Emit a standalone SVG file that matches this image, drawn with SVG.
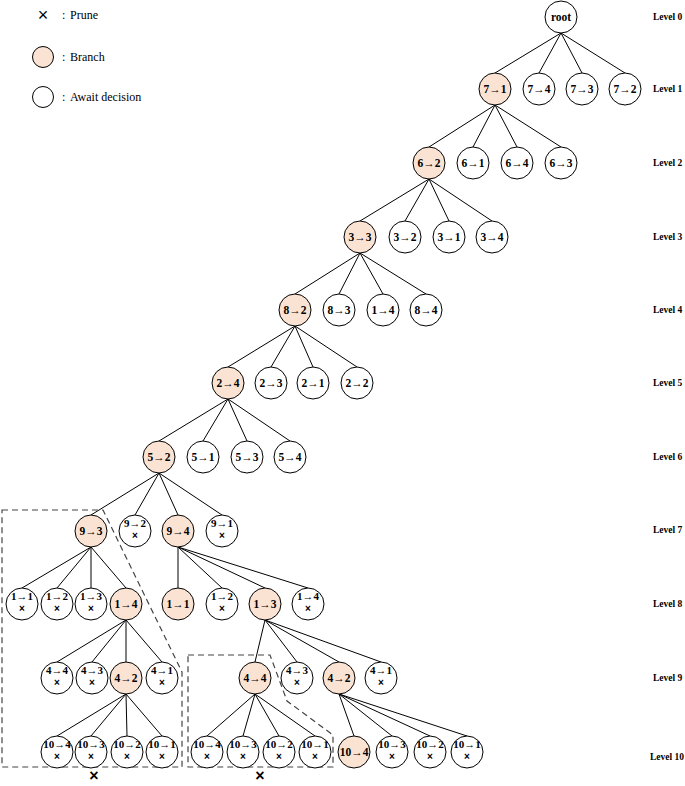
<svg xmlns="http://www.w3.org/2000/svg" width="685" height="786" viewBox="0 0 685 786">
<style>
.n{fill:#fff;stroke:#000;stroke-width:1}
.b{fill:#FAE3D3;stroke:#000;stroke-width:1}
.t{font-family:"Liberation Serif","Times New Roman",serif;font-weight:bold;font-size:11.5px;text-anchor:middle;fill:#000}
.u{font-family:"Liberation Serif","Times New Roman",serif;font-weight:bold;font-size:11px;text-anchor:middle;fill:#000}
.x{font-family:"Liberation Sans",Arial,sans-serif;font-weight:bold;font-size:10px;text-anchor:middle;fill:#000}
.X{font-family:"Liberation Sans",Arial,sans-serif;font-weight:bold;font-size:16px;text-anchor:middle;fill:#000}
.lv{font-family:"Liberation Serif","Times New Roman",serif;font-weight:bold;font-size:9.5px;fill:#000}
.lg{font-family:"Liberation Serif","Times New Roman",serif;font-size:12px;fill:#000}
.e line{stroke:#000;stroke-width:1}
.d{fill:none;stroke:#444;stroke-width:1.2;stroke-dasharray:6 4}
</style>
<rect width="685" height="786" fill="#fff"/>
<g id="legend">
<text x="43" y="21" font-family="Liberation Sans,Arial,sans-serif" font-size="18" text-anchor="middle">×</text>
<text x="62" y="19" class="lg">:</text><text x="70" y="19" class="lg">Prune</text>
<circle cx="43" cy="57" r="10.5" class="b"/>
<text x="62" y="61" class="lg">:</text><text x="70" y="61" class="lg">Branch</text>
<circle cx="43" cy="97" r="10.5" class="n"/>
<text x="62" y="101" class="lg">:</text><text x="70" y="101" class="lg">Await decision</text>
</g>
<g id="levels">
<text x="653" y="20" class="lv">Level 0</text>
<text x="653" y="92" class="lv">Level 1</text>
<text x="653" y="166" class="lv">Level 2</text>
<text x="653" y="240" class="lv">Level 3</text>
<text x="653" y="313" class="lv">Level 4</text>
<text x="653" y="386" class="lv">Level 5</text>
<text x="653" y="460" class="lv">Level 6</text>
<text x="653" y="533" class="lv">Level 7</text>
<text x="653" y="607" class="lv">Level 8</text>
<text x="653" y="681" class="lv">Level 9</text>
<text x="650" y="760" class="lv">Level 10</text>
</g>
<g id="connectors" class="e">
<line x1="561" y1="33" x2="495" y2="73"/><line x1="561" y1="33" x2="539" y2="73"/><line x1="561" y1="33" x2="582" y2="73"/><line x1="561" y1="33" x2="625" y2="73"/>
<line x1="495" y1="105" x2="429" y2="147"/><line x1="495" y1="105" x2="473" y2="147"/><line x1="495" y1="105" x2="517" y2="147"/><line x1="495" y1="105" x2="561" y2="147"/>
<line x1="429" y1="179" x2="360" y2="221"/><line x1="429" y1="179" x2="405" y2="221"/><line x1="429" y1="179" x2="449" y2="221"/><line x1="429" y1="179" x2="492" y2="221"/>
<line x1="360" y1="253" x2="295" y2="294"/><line x1="360" y1="253" x2="339" y2="294"/><line x1="360" y1="253" x2="383" y2="294"/><line x1="360" y1="253" x2="426" y2="294"/>
<line x1="295" y1="326" x2="228" y2="367"/><line x1="295" y1="326" x2="271" y2="367"/><line x1="295" y1="326" x2="313" y2="367"/><line x1="295" y1="326" x2="357" y2="367"/>
<line x1="228" y1="399" x2="159" y2="441"/><line x1="228" y1="399" x2="203" y2="441"/><line x1="228" y1="399" x2="247" y2="441"/><line x1="228" y1="399" x2="290" y2="441"/>
<line x1="159" y1="473" x2="91" y2="515"/><line x1="159" y1="473" x2="135" y2="515"/><line x1="159" y1="473" x2="178" y2="515"/><line x1="159" y1="473" x2="222" y2="515"/>
<line x1="91" y1="547" x2="22" y2="588"/><line x1="91" y1="547" x2="57" y2="588"/><line x1="91" y1="547" x2="91" y2="588"/><line x1="91" y1="547" x2="126" y2="588"/>
<line x1="178" y1="547" x2="178" y2="588"/><line x1="178" y1="547" x2="222" y2="588"/><line x1="178" y1="547" x2="265" y2="588"/><line x1="178" y1="547" x2="308" y2="588"/>
<line x1="126" y1="620" x2="57" y2="662"/><line x1="126" y1="620" x2="92" y2="662"/><line x1="126" y1="620" x2="126" y2="662"/><line x1="126" y1="620" x2="162" y2="662"/>
<line x1="265" y1="620" x2="255" y2="662"/><line x1="265" y1="620" x2="297" y2="662"/><line x1="265" y1="620" x2="339" y2="662"/><line x1="265" y1="620" x2="381" y2="662"/>
<line x1="126" y1="694" x2="57" y2="736"/><line x1="126" y1="694" x2="91" y2="736"/><line x1="126" y1="694" x2="127" y2="736"/><line x1="126" y1="694" x2="162" y2="736"/>
<line x1="255" y1="694" x2="207" y2="736"/><line x1="255" y1="694" x2="243" y2="736"/><line x1="255" y1="694" x2="279" y2="736"/><line x1="255" y1="694" x2="315" y2="736"/>
<line x1="339" y1="694" x2="354" y2="736"/><line x1="339" y1="694" x2="392" y2="736"/><line x1="339" y1="694" x2="430" y2="736"/><line x1="339" y1="694" x2="467" y2="736"/>
</g>
<g id="prune-regions">
<path class="d" d="M2 510H103L182 672V767H2Z"/>
<path class="d" d="M188 655H270L287 701L333 735V767H188Z"/>
<text x="94" y="781" class="X">×</text>
<text x="260" y="781" class="X">×</text>
</g>
<g id="n-root"><circle cx="561" cy="17" r="16" class="n"/><text x="561" y="21" class="t">root</text></g>
<g id="n1-1"><circle cx="495" cy="89" r="16" class="b"/><text x="495" y="93" class="t">7→1</text></g>
<g id="n1-2"><circle cx="539" cy="89" r="16" class="n"/><text x="539" y="93" class="t">7→4</text></g>
<g id="n1-3"><circle cx="582" cy="89" r="16" class="n"/><text x="582" y="93" class="t">7→3</text></g>
<g id="n1-4"><circle cx="625" cy="89" r="16" class="n"/><text x="625" y="93" class="t">7→2</text></g>
<g id="n2-1"><circle cx="429" cy="163" r="16" class="b"/><text x="429" y="167" class="t">6→2</text></g>
<g id="n2-2"><circle cx="473" cy="163" r="16" class="n"/><text x="473" y="167" class="t">6→1</text></g>
<g id="n2-3"><circle cx="517" cy="163" r="16" class="n"/><text x="517" y="167" class="t">6→4</text></g>
<g id="n2-4"><circle cx="561" cy="163" r="16" class="n"/><text x="561" y="167" class="t">6→3</text></g>
<g id="n3-1"><circle cx="360" cy="237" r="16" class="b"/><text x="360" y="241" class="t">3→3</text></g>
<g id="n3-2"><circle cx="405" cy="237" r="16" class="n"/><text x="405" y="241" class="t">3→2</text></g>
<g id="n3-3"><circle cx="449" cy="237" r="16" class="n"/><text x="449" y="241" class="t">3→1</text></g>
<g id="n3-4"><circle cx="492" cy="237" r="16" class="n"/><text x="492" y="241" class="t">3→4</text></g>
<g id="n4-1"><circle cx="295" cy="310" r="16" class="b"/><text x="295" y="314" class="t">8→2</text></g>
<g id="n4-2"><circle cx="339" cy="310" r="16" class="n"/><text x="339" y="314" class="t">8→3</text></g>
<g id="n4-3"><circle cx="383" cy="310" r="16" class="n"/><text x="383" y="314" class="t">1→4</text></g>
<g id="n4-4"><circle cx="426" cy="310" r="16" class="n"/><text x="426" y="314" class="t">8→4</text></g>
<g id="n5-1"><circle cx="228" cy="383" r="16" class="b"/><text x="228" y="387" class="t">2→4</text></g>
<g id="n5-2"><circle cx="271" cy="383" r="16" class="n"/><text x="271" y="387" class="t">2→3</text></g>
<g id="n5-3"><circle cx="313" cy="383" r="16" class="n"/><text x="313" y="387" class="t">2→1</text></g>
<g id="n5-4"><circle cx="357" cy="383" r="16" class="n"/><text x="357" y="387" class="t">2→2</text></g>
<g id="n6-1"><circle cx="159" cy="457" r="16" class="b"/><text x="159" y="461" class="t">5→2</text></g>
<g id="n6-2"><circle cx="203" cy="457" r="16" class="n"/><text x="203" y="461" class="t">5→1</text></g>
<g id="n6-3"><circle cx="247" cy="457" r="16" class="n"/><text x="247" y="461" class="t">5→3</text></g>
<g id="n6-4"><circle cx="290" cy="457" r="16" class="n"/><text x="290" y="461" class="t">5→4</text></g>
<g id="n7-1"><circle cx="91" cy="531" r="16" class="b"/><text x="91" y="535" class="t">9→3</text></g>
<g id="n7-2"><circle cx="135" cy="531" r="16" class="n"/><text x="135" y="527" class="u">9→2</text><text x="135" y="539" class="x">×</text></g>
<g id="n7-3"><circle cx="178" cy="531" r="16" class="b"/><text x="178" y="535" class="t">9→4</text></g>
<g id="n7-4"><circle cx="222" cy="531" r="16" class="n"/><text x="222" y="527" class="u">9→1</text><text x="222" y="539" class="x">×</text></g>
<g id="n8-1"><circle cx="22" cy="604" r="16" class="n"/><text x="22" y="600" class="u">1→1</text><text x="22" y="612" class="x">×</text></g>
<g id="n8-2"><circle cx="57" cy="604" r="16" class="n"/><text x="57" y="600" class="u">1→2</text><text x="57" y="612" class="x">×</text></g>
<g id="n8-3"><circle cx="91" cy="604" r="16" class="n"/><text x="91" y="600" class="u">1→3</text><text x="91" y="612" class="x">×</text></g>
<g id="n8-4"><circle cx="126" cy="604" r="16" class="b"/><text x="126" y="608" class="t">1→4</text></g>
<g id="n8-5"><circle cx="178" cy="604" r="16" class="b"/><text x="178" y="608" class="t">1→1</text></g>
<g id="n8-6"><circle cx="222" cy="604" r="16" class="n"/><text x="222" y="600" class="u">1→2</text><text x="222" y="612" class="x">×</text></g>
<g id="n8-7"><circle cx="265" cy="604" r="16" class="b"/><text x="265" y="608" class="t">1→3</text></g>
<g id="n8-8"><circle cx="308" cy="604" r="16" class="n"/><text x="308" y="600" class="u">1→4</text><text x="308" y="612" class="x">×</text></g>
<g id="n9-1"><circle cx="57" cy="678" r="16" class="n"/><text x="57" y="674" class="u">4→4</text><text x="57" y="686" class="x">×</text></g>
<g id="n9-2"><circle cx="92" cy="678" r="16" class="n"/><text x="92" y="674" class="u">4→3</text><text x="92" y="686" class="x">×</text></g>
<g id="n9-3"><circle cx="126" cy="678" r="16" class="b"/><text x="126" y="682" class="t">4→2</text></g>
<g id="n9-4"><circle cx="162" cy="678" r="16" class="n"/><text x="162" y="674" class="u">4→1</text><text x="162" y="686" class="x">×</text></g>
<g id="n9-5"><circle cx="255" cy="678" r="16" class="b"/><text x="255" y="682" class="t">4→4</text></g>
<g id="n9-6"><circle cx="297" cy="678" r="16" class="n"/><text x="297" y="674" class="u">4→3</text><text x="297" y="686" class="x">×</text></g>
<g id="n9-7"><circle cx="339" cy="678" r="16" class="b"/><text x="339" y="682" class="t">4→2</text></g>
<g id="n9-8"><circle cx="381" cy="678" r="16" class="n"/><text x="381" y="674" class="u">4→1</text><text x="381" y="686" class="x">×</text></g>
<g id="n10-1"><circle cx="57" cy="752" r="16" class="n"/><text x="57" y="748" class="u">10→4</text><text x="57" y="760" class="x">×</text></g>
<g id="n10-2"><circle cx="91" cy="752" r="16" class="n"/><text x="91" y="748" class="u">10→3</text><text x="91" y="760" class="x">×</text></g>
<g id="n10-3"><circle cx="127" cy="752" r="16" class="n"/><text x="127" y="748" class="u">10→2</text><text x="127" y="760" class="x">×</text></g>
<g id="n10-4"><circle cx="162" cy="752" r="16" class="n"/><text x="162" y="748" class="u">10→1</text><text x="162" y="760" class="x">×</text></g>
<g id="n10-5"><circle cx="207" cy="752" r="16" class="n"/><text x="207" y="748" class="u">10→4</text><text x="207" y="760" class="x">×</text></g>
<g id="n10-6"><circle cx="243" cy="752" r="16" class="n"/><text x="243" y="748" class="u">10→3</text><text x="243" y="760" class="x">×</text></g>
<g id="n10-7"><circle cx="279" cy="752" r="16" class="n"/><text x="279" y="748" class="u">10→2</text><text x="279" y="760" class="x">×</text></g>
<g id="n10-8"><circle cx="315" cy="752" r="16" class="n"/><text x="315" y="748" class="u">10→1</text><text x="315" y="760" class="x">×</text></g>
<g id="n10-9"><circle cx="354" cy="752" r="16" class="b"/><text x="354" y="756" class="t">10→4</text></g>
<g id="n10-10"><circle cx="392" cy="752" r="16" class="n"/><text x="392" y="748" class="u">10→3</text><text x="392" y="760" class="x">×</text></g>
<g id="n10-11"><circle cx="430" cy="752" r="16" class="n"/><text x="430" y="748" class="u">10→2</text><text x="430" y="760" class="x">×</text></g>
<g id="n10-12"><circle cx="467" cy="752" r="16" class="n"/><text x="467" y="748" class="u">10→1</text><text x="467" y="760" class="x">×</text></g>
</svg>
